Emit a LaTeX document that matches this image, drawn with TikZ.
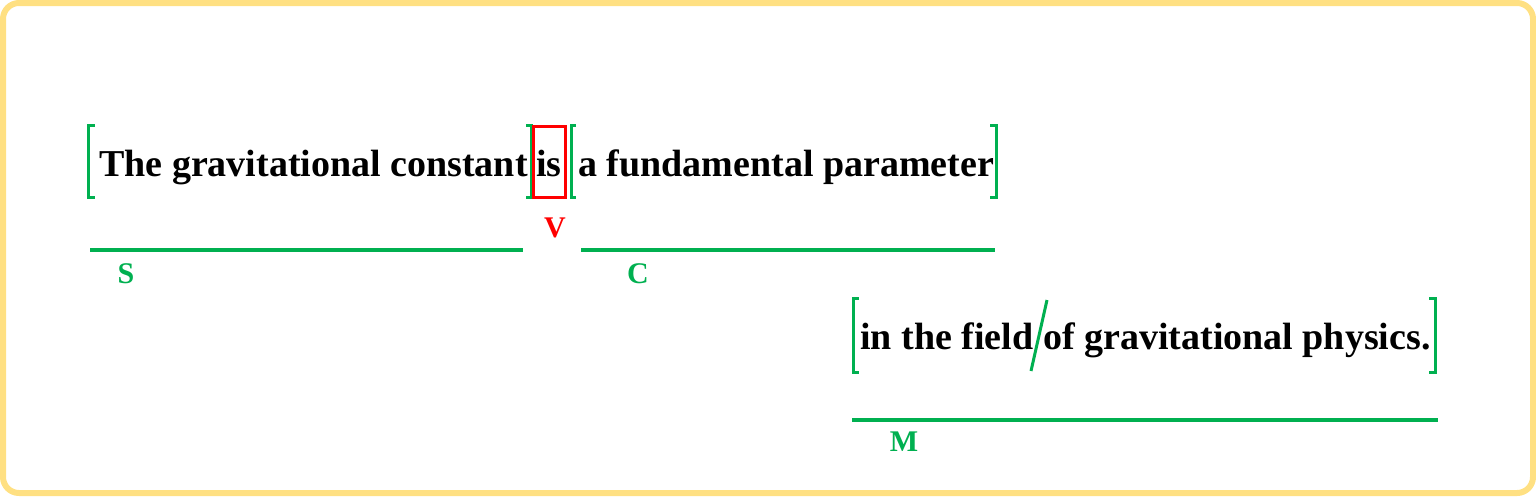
\documentclass[tikz,border=0pt]{standalone}
\usepackage{fontspec}
\setmainfont{Liberation Serif}
\definecolor{frame}{RGB}{255, 224, 130}
\definecolor{phrase}{RGB}{0, 176, 80}
\definecolor{verb}{RGB}{255, 0, 0}
\tikzset{
  word/.style={anchor=base west, inner sep=0pt, font=\fontsize{38}{44}\selectfont\bfseries},
  tag/.style={inner sep=0pt, font=\fontsize{30}{34}\selectfont\bfseries},
  bracket/.style={draw=phrase, line width=3pt},
  underline/.style={draw=phrase, line width=3.5pt}
}
\begin{document}
\begin{tikzpicture}[x=1pt, y=-1pt]
      \useasboundingbox (0,0) rectangle (1536,496);
      % Frame
      \draw[frame, line width=6pt, rounded corners=16pt] (3,3) rectangle (1533,493);

      % Sentence parts
      \node[word] (subj) at (99,176) {The gravitational constant};
      \node[word, anchor=base] (pred) at (549,176) {is};
      \node[word] (comp) at (578,176) {a fundamental parameter};
      \node[word] (mod1) at (860,349) {in the field};
      \node[word] (mod2) at (1043,349) {of gravitational physics.};

      % Brackets
      \draw[bracket] (95,125) -- (88,125) -- (88,197) -- (95,197);
      \draw[bracket] (526,125) -- (531,125) -- (531,197) -- (526,197);
      \draw[bracket] (576,125) -- (571,125) -- (571,197) -- (576,197);
      \draw[bracket] (990,125) -- (996,125) -- (996,197) -- (990,197);
      \draw[bracket] (859,298) -- (853,298) -- (853,372) -- (859,372);
      \draw[bracket] (1429,298) -- (1435,298) -- (1435,372) -- (1429,372);
      \draw[draw=verb, line width=3pt] (533,126) rectangle (565,197);
      \draw[draw=phrase, line width=3pt] (1047,300) -- (1031,371);

      % Underlines
      \draw[underline] (90,250) -- (523,250);
      \draw[underline] (581,250) -- (995,250);
      \draw[underline] (852,420) -- (1438,420);

      % Labels
      \node[tag, text=phrase] (s) at (126,274) {S};
      \node[tag, text=verb] (v) at (555,228) {V};
      \node[tag, text=phrase] (c) at (638,274) {C};
      \node[tag, text=phrase] (m) at (904,442) {M};
    \end{tikzpicture}
\end{document}
